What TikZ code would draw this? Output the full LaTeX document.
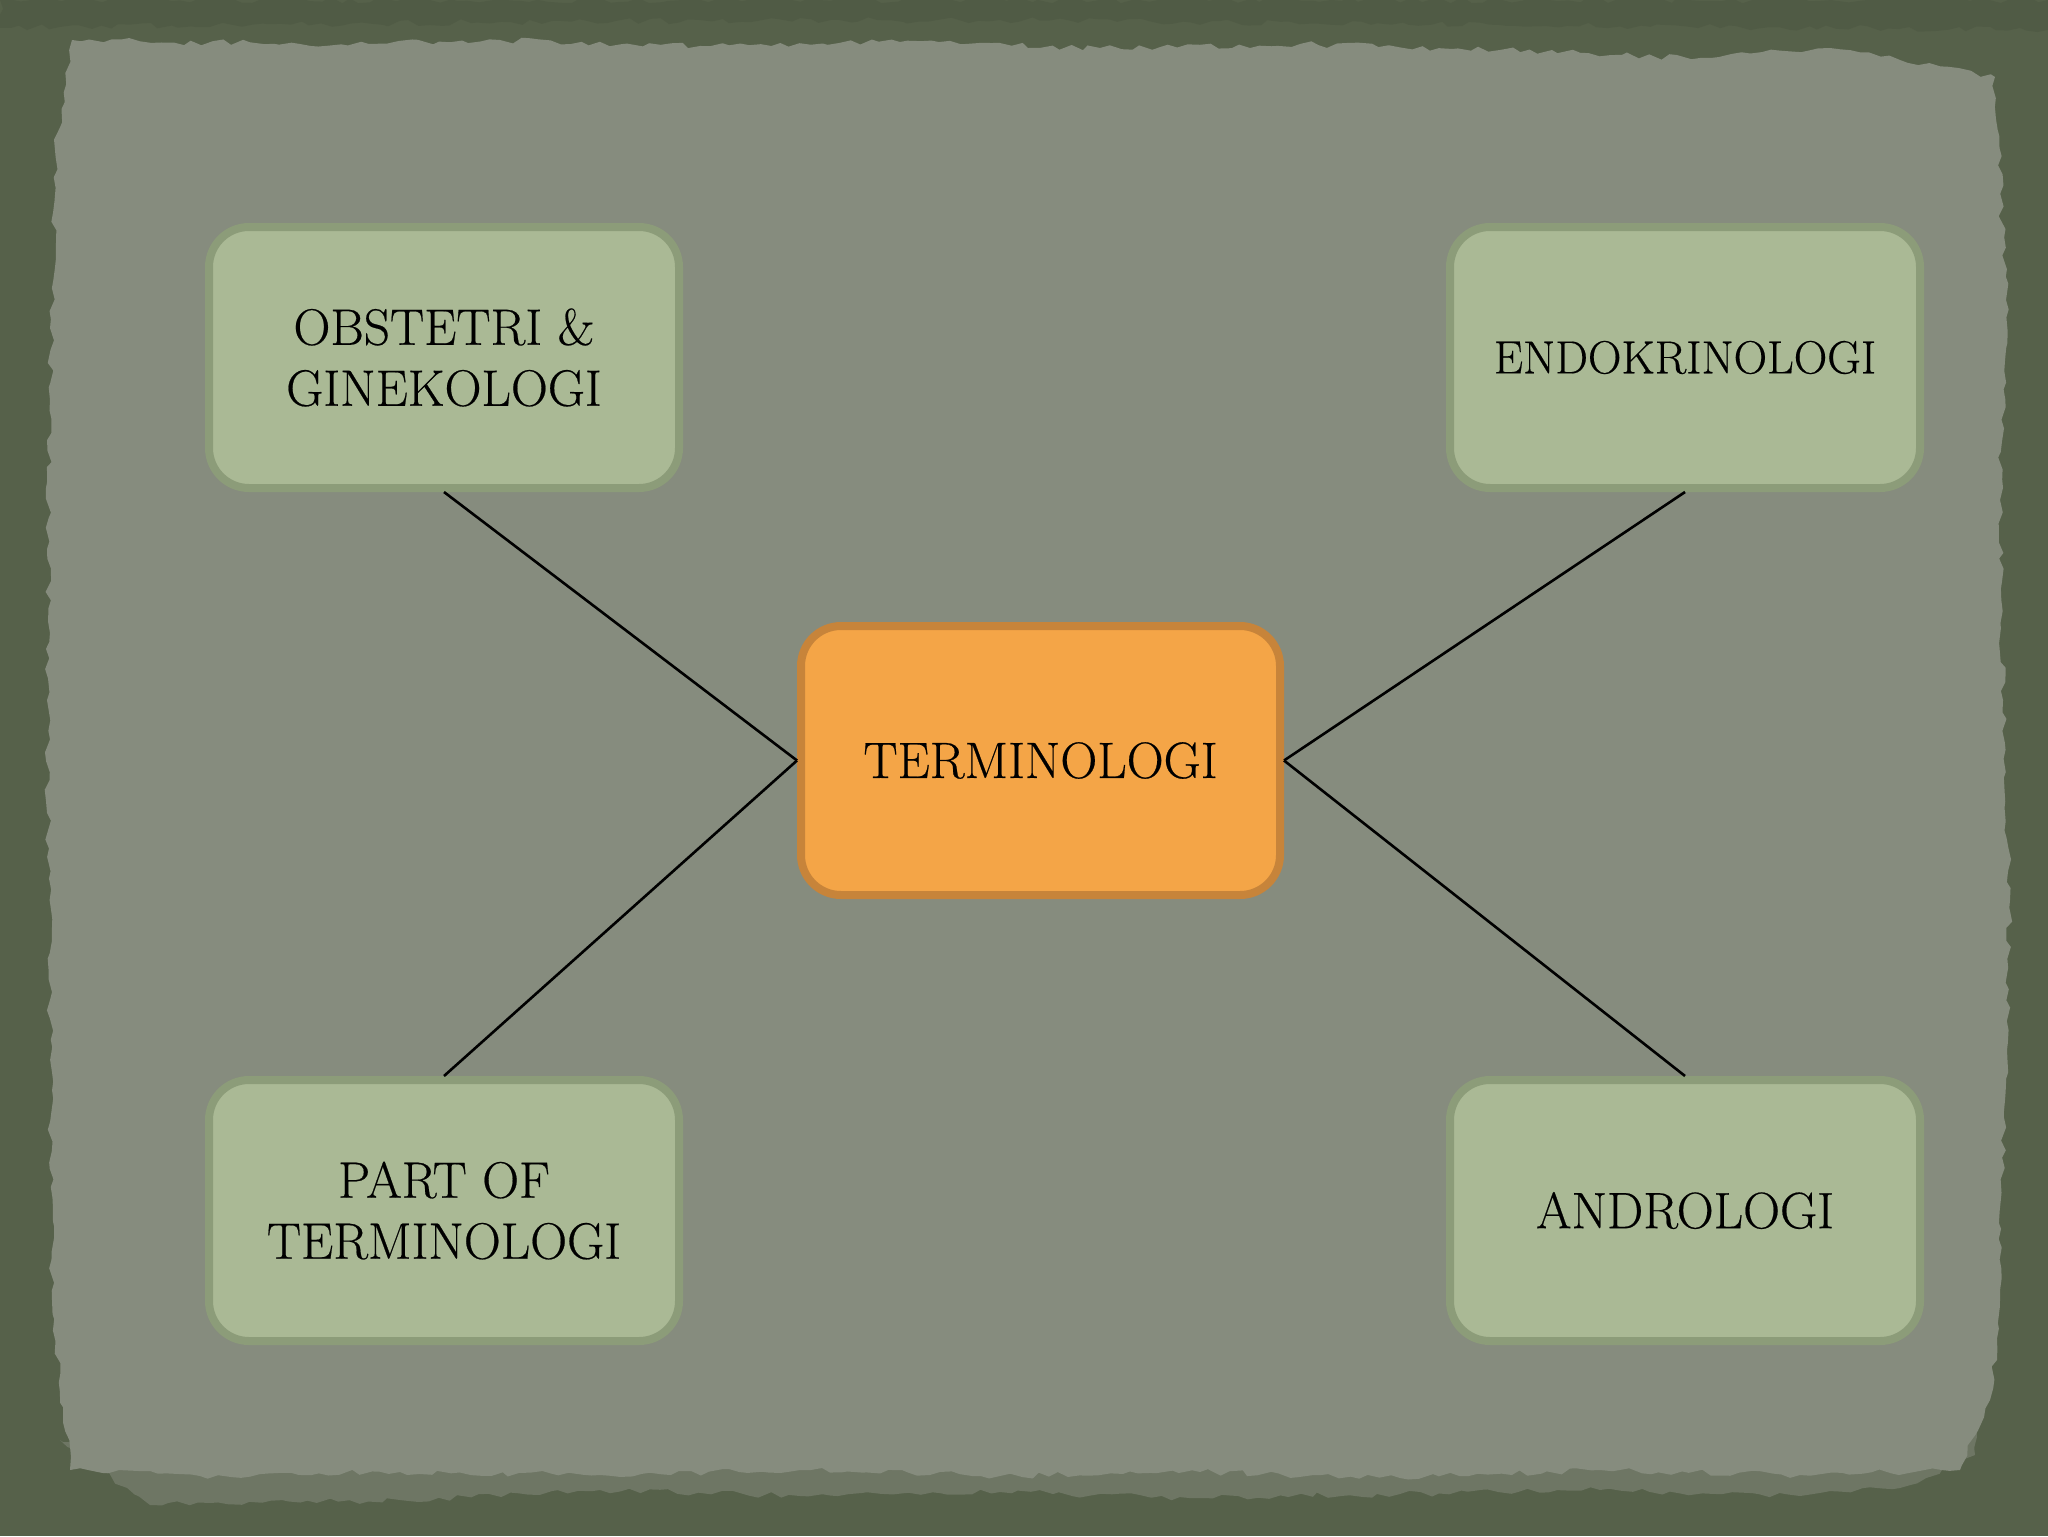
\documentclass[tikz,border=0pt]{standalone}
\usepackage{fontspec}
\setmainfont{Latin Modern Roman}[FakeBold=0.4]
\usetikzlibrary{decorations.pathmorphing}
\definecolor{outerbg}{HTML}{56614A}
\definecolor{outerdark}{HTML}{4C5641}
\definecolor{stripc}{HTML}{6E7664}
\definecolor{paper}{HTML}{868C7E}
\definecolor{paperlight}{HTML}{8B9184}
\definecolor{boxfill}{HTML}{AAB995}
\definecolor{boxline}{HTML}{8C9C79}
\definecolor{ctrfill}{HTML}{F4A547}
\definecolor{ctrline}{HTML}{C7843A}
\tikzset{
  torn/.style={decorate, decoration={random steps, segment length=5pt, amplitude=1.6pt}},
  greenbox/.style={draw=boxline, fill=boxfill, line width=4pt, rounded corners=20pt,
    minimum width=235pt, minimum height=130.5pt, align=center, inner sep=0pt,
    font=\fontsize{25.6}{30.5}\selectfont, text=black},
  centerbox/.style={draw=ctrline, fill=ctrfill, line width=4pt, rounded corners=20pt,
    minimum width=239.5pt, minimum height=134.5pt, align=center, inner sep=0pt,
    font=\fontsize{25.6}{30.5}\selectfont, text=black},
  link/.style={draw=black, line width=1.3pt}
}
\begin{document}
\begin{tikzpicture}[x=0.5pt,y=-0.5pt]
\pgfmathsetseed{7}
\useasboundingbox (0,0) rectangle (2048,1536);
% outer dark background
\fill[outerbg] (0,0) rectangle (2048,1536);
\fill[outerdark, opacity=0.5, torn] (0,0) -- (2048,0) -- (2048,30) -- (1500,25) -- (1000,20) -- (500,22) -- (0,28) -- cycle;
% lighter torn strip along bottom
\fill[stripc, torn] (60,1440) -- (150,1505) -- (400,1500) -- (600,1490) -- (800,1496) -- (1000,1492)
  -- (1200,1498) -- (1400,1494) -- (1600,1490) -- (1800,1496) -- (1900,1488) -- (1975,1455)
  -- (1990,1300) -- cycle;
% paper
\fill[paper, torn] (72,40) -- (300,44) -- (500,40) -- (700,46) -- (900,42) -- (1100,48)
  -- (1300,44) -- (1500,50) -- (1700,58) -- (1830,48) -- (1900,60) -- (1995,77)
  -- (2006,300) -- (2000,500) -- (2003,700) -- (2010,900) -- (2005,1100) -- (2000,1300)
  -- (1990,1400) -- (1960,1470) -- (1800,1475) -- (1600,1470) -- (1400,1478) -- (1200,1472)
  -- (1000,1476) -- (800,1470) -- (600,1475) -- (400,1472) -- (200,1476) -- (70,1470)
  -- (52,1300) -- (50,1000) -- (47,700) -- (50,400) -- (55,150) -- cycle;
% nodes
\node[greenbox] (tl) at (444,357.5) {OBSTETRI \&\\GINEKOLOGI};
\node[greenbox, font=\fontsize{23.2}{28}\selectfont] (tr) at (1685,357.5) {ENDOKRINOLOGI};
\node[greenbox] (bl) at (444,1210.5) {PART OF\\TERMINOLOGI};
\node[greenbox] (br) at (1685,1210.5) {ANDROLOGI};
\node[centerbox] (c) at (1040.5,760.5) {TERMINOLOGI};
% connectors
\draw[link] (tl.south) -- (c.west);
\draw[link] (bl.north) -- (c.west);
\draw[link] (tr.south) -- (c.east);
\draw[link] (br.north) -- (c.east);
\end{tikzpicture}
\end{document}
